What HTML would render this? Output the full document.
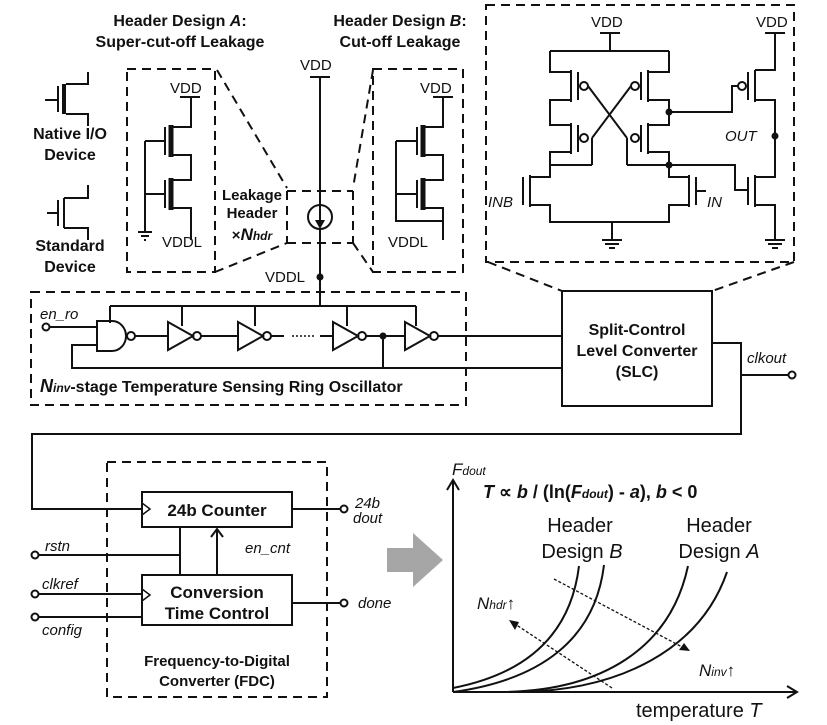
<!DOCTYPE html>
<html><head><meta charset="utf-8"><style>
html,body{margin:0;padding:0;background:#fff}
svg{display:block}
text{font-family:"Liberation Sans",Arial,sans-serif;fill:#111}
.b{font-weight:bold}
.i{font-style:italic}
</style></head><body>
<svg width="827" height="725" viewBox="0 0 827 725" xmlns="http://www.w3.org/2000/svg">
<g fill="none" stroke="#111" stroke-width="2">
<g stroke-dasharray="9,6">
<rect x="127" y="69" width="88" height="203"/>
<rect x="373" y="69" width="90" height="203"/>
<path d="M217 70 L287 188 M215 272 L287 243 M373 70 L353 188 M353 243 L373 272"/>
<path d="M287 191 L353 191 M287 243 L353 243 M287 191 L287 243 M353 191 L353 243"/>
<rect x="486" y="5" width="308" height="257"/>
<path d="M488 262 L562 291 M794 262 L712 291"/>
<rect x="31" y="292" width="435" height="113"/>
<rect x="107" y="462" width="220" height="235"/>
</g>
<path d="M310 77 H330 M320 77 V306"/>
<circle cx="320" cy="217" r="12" fill="#fff"/>
<path d="M320 206 V222" />
<circle cx="320" cy="277" r="2.5" fill="#111"/>
<path d="M45 100 H58 M58 86 V112"/>
<path d="M64 84 V114" stroke-width="4"/>
<path d="M88 72 V84 H66 M66 114 H88 V126" />
<path d="M47 213 H58 M58 200 V226"/>
<path d="M64 198 V228"/>
<path d="M88 185 V198 H64 M64 228 H88 V240"/>
<path d="M180 97 H200 M191 97 V127 H172 M172 155 H191 V180 H172 M172 208 H191 V240"/>
<path d="M171 125 V157 M171 178 V210" stroke-width="5"/>
<path d="M165 127 V155 M165 180 V208"/>
<path d="M145 141 H165 M145 194 H165 M145 141 V232"/>
<path d="M138 232 H152 M141 236 H149 M144 240 H146"/>
<path d="M433 97 H453 M443 97 V127 H424 M424 155 H443 V180 H424 M424 208 H443 V240"/>
<path d="M423 125 V157 M423 178 V210" stroke-width="5"/>
<path d="M417 127 V155 M417 180 V208"/>
<path d="M396 141 H417 M396 194 H417 M396 141 V221 H443"/>
<path d="M600 33 H620 M610 33 V51 M550 51 H669"/>
<path d="M550 51 V72 H571 M571 100 H550 V125 H571 M571 152 H550 V165"/>
<path d="M571 70 V102 M571 123 V154"/>
<path d="M578 72 V100 M578 125 V152"/>
<circle cx="584" cy="86" r="4"/><circle cx="584" cy="138" r="4"/>
<path d="M669 51 V72 H648 M648 100 H669 V125 H648 M648 152 H669 V165"/>
<path d="M648 70 V102 M648 123 V154"/>
<path d="M641 72 V100 M641 125 V152"/>
<circle cx="635" cy="86" r="4"/><circle cx="635" cy="138" r="4"/>
<path d="M588 86 L627 138 M631 86 L592 138 M592 138 V165 M627 138 V165"/>
<path d="M550 165 H592 M627 165 H735 V190 H748"/>
<path d="M669 112 H732 V86 H738"/>
<circle cx="742" cy="86" r="4"/>
<path d="M748 72 V100 M755 70 V102"/>
<path d="M765 33 H785 M775 33 V70 H755 M755 100 H775 V177 H755 M755 205 H775 V240"/>
<path d="M748 177 V205 M755 175 V207"/>
<path d="M550 165 V177 H530 M530 205 H550 V222 H669 V205 H689 M689 177 H669 V165"/>
<path d="M530 175 V207 M523 177 V205 M689 175 V207 M696 177 V205 M696 191 H706"/>
<path d="M612 222 V240 M602 240 H622 M605 244 H619 M609 248 H615"/>
<path d="M765 240 H785 M768 244 H782 M772 248 H778"/>
<circle cx="669" cy="112" r="2.5" fill="#111"/><circle cx="669" cy="165" r="2.5" fill="#111"/><circle cx="775" cy="136" r="2.5" fill="#111"/>
<path d="M110 306 H416 M110 306 V323 M182 306 V326 M255 306 V326 M347 306 V326 M416 306 V326"/>
<circle cx="46" cy="327" r="3.5"/>
<path d="M50 327 H97 M97 345 H72 V368 H562"/>
<path d="M97 321 H112 A14 15 0 0 1 112 351 H97 Z"/>
<circle cx="131" cy="336" r="4"/>
<path d="M135 336 H168 M168 322 L193 336 L168 350 Z"/><circle cx="197" cy="336" r="4"/>
<path d="M201 336 H238 M238 322 L263 336 L238 350 Z"/><circle cx="267" cy="336" r="4"/>
<path d="M271 336 H284 M320 336 H333"/>
<path d="M292 336 H314" stroke-width="1.5" stroke-dasharray="2,2"/>
<path d="M333 322 L358 336 L333 350 Z"/><circle cx="362" cy="336" r="4"/>
<path d="M366 336 H405 M383 336 V368 M405 322 L430 336 L405 350 Z"/><circle cx="434" cy="336" r="4"/>
<circle cx="383" cy="336" r="2.5" fill="#111"/>
<path d="M438 336 H562"/>
<rect x="562" y="291" width="150" height="115"/>
<path d="M712 343 H741 V434 H32 V509 H142 M741 375 H788"/>
<circle cx="792" cy="375" r="3.5"/>
<rect x="142" y="492" width="150" height="35"/>
<rect x="142" y="575" width="150" height="50"/>
<path d="M142 503 L150 509 L142 515 M142 589 L150 595 L142 601" stroke-width="1.5"/>
<path d="M292 509 H340 M292 603 H340"/>
<circle cx="344" cy="509" r="3.5"/><circle cx="344" cy="603" r="3.5"/>
<path d="M180 527 V575 M217 575 V529 M211 537 L217 529 L223 537"/>
<path d="M39 555 H180 M39 594 H142 M39 617 H142"/>
<circle cx="35" cy="555" r="3.5"/><circle cx="35" cy="594" r="3.5"/><circle cx="35" cy="617" r="3.5"/>
<path d="M453 692 V482 M447 490 L453 480 L459 490 M453 692 H795 M787 686 L797 692 L787 698"/>
<path d="M453 688 C520 675 570 640 579 566"/>
<path d="M453 692 C540 680 595 640 604 565"/>
<path d="M505 692 C600 690 670 650 688 566"/>
<path d="M520 692 C620 690 700 650 727 572"/>
<path d="M554 579 L684 648 M612 688 L515 624" stroke-width="1.3" stroke-dasharray="3,2"/>
</g>
<path d="M315 220 L325 220 L320 229 Z" fill="#111"/>
<path d="M690 651 L679 650 L684 643 Z M509 620 L515 630 L519 622 Z" fill="#111"/>
<path d="M387 548 H413 V533 L443 560 L413 587 V572 H387 Z" fill="#a6a6a6"/>
<g class="b" font-size="16" text-anchor="middle">
<text x="180" y="26">Header Design <tspan class="i">A</tspan>:</text>
<text x="180" y="47">Super-cut-off Leakage</text>
<text x="400" y="26">Header Design <tspan class="i">B</tspan>:</text>
<text x="400" y="47">Cut-off Leakage</text>
<text x="70" y="139">Native I/O</text>
<text x="70" y="160">Device</text>
<text x="70" y="251">Standard</text>
<text x="70" y="272">Device</text>
<text x="252" y="200" font-size="15">Leakage</text>
<text x="252" y="218" font-size="15">Header</text>
<text x="252" y="240" font-size="15">×<tspan class="i" font-size="17">N</tspan><tspan class="i" font-size="12">hdr</tspan></text>
<text x="637" y="335" font-size="16">Split-Control</text>
<text x="637" y="356" font-size="16">Level Converter</text>
<text x="637" y="377" font-size="16">(SLC)</text>
<text x="217" y="516" font-size="17">24b Counter</text>
<text x="217" y="598" font-size="17">Conversion</text>
<text x="217" y="619" font-size="17">Time Control</text>
<text x="217" y="666" font-size="15">Frequency-to-Digital</text>
<text x="217" y="686" font-size="15">Converter (FDC)</text>
</g>
<g font-size="15">
<text x="300" y="70">VDD</text>
<text x="170" y="93">VDD</text>
<text x="162" y="247">VDDL</text>
<text x="420" y="93">VDD</text>
<text x="388" y="247">VDDL</text>
<text x="265" y="282">VDDL</text>
<text x="591" y="27">VDD</text>
<text x="756" y="27">VDD</text>
<text class="i" x="725" y="141">OUT</text>
<text class="i" x="488" y="207">INB</text>
<text class="i" x="707" y="207">IN</text>
<text class="i" x="40" y="319">en_ro</text>
<text class="i" x="747" y="363">clkout</text>
<text class="i" x="355" y="508">24b</text>
<text class="i" x="353" y="523">dout</text>
<text class="i" x="245" y="553">en_cnt</text>
<text class="i" x="45" y="551">rstn</text>
<text class="i" x="42" y="589">clkref</text>
<text class="i" x="42" y="635">config</text>
<text class="i" x="358" y="608">done</text>
</g>
<text class="b" font-size="16" x="40" y="392"><tspan class="i" font-size="18">N</tspan><tspan class="i" font-size="12">inv</tspan>-stage Temperature Sensing Ring Oscillator</text>
<text class="i" font-size="17" x="452" y="475">F<tspan font-size="12">dout</tspan></text>
<text class="b i" font-size="18" x="483" y="498">T <tspan font-style="normal">∝</tspan> b <tspan font-style="normal">/ (ln(</tspan>F<tspan font-size="12">dout</tspan><tspan font-style="normal">) -</tspan> a<tspan font-style="normal">),</tspan> b <tspan font-style="normal">&lt; 0</tspan></text>
<g font-size="20" text-anchor="middle">
<text x="580" y="532">Header</text>
<text x="582" y="558">Design <tspan class="i">B</tspan></text>
<text x="719" y="532">Header</text>
<text x="719" y="558">Design <tspan class="i">A</tspan></text>
</g>
<text class="i" font-size="17" x="477" y="609">N<tspan font-size="12">hdr</tspan><tspan font-style="normal">↑</tspan></text>
<text class="i" font-size="17" x="699" y="676">N<tspan font-size="12">inv</tspan><tspan font-style="normal">↑</tspan></text>
<text font-size="20" x="636" y="717">temperature <tspan class="i">T</tspan></text>
</svg>
</body></html>
